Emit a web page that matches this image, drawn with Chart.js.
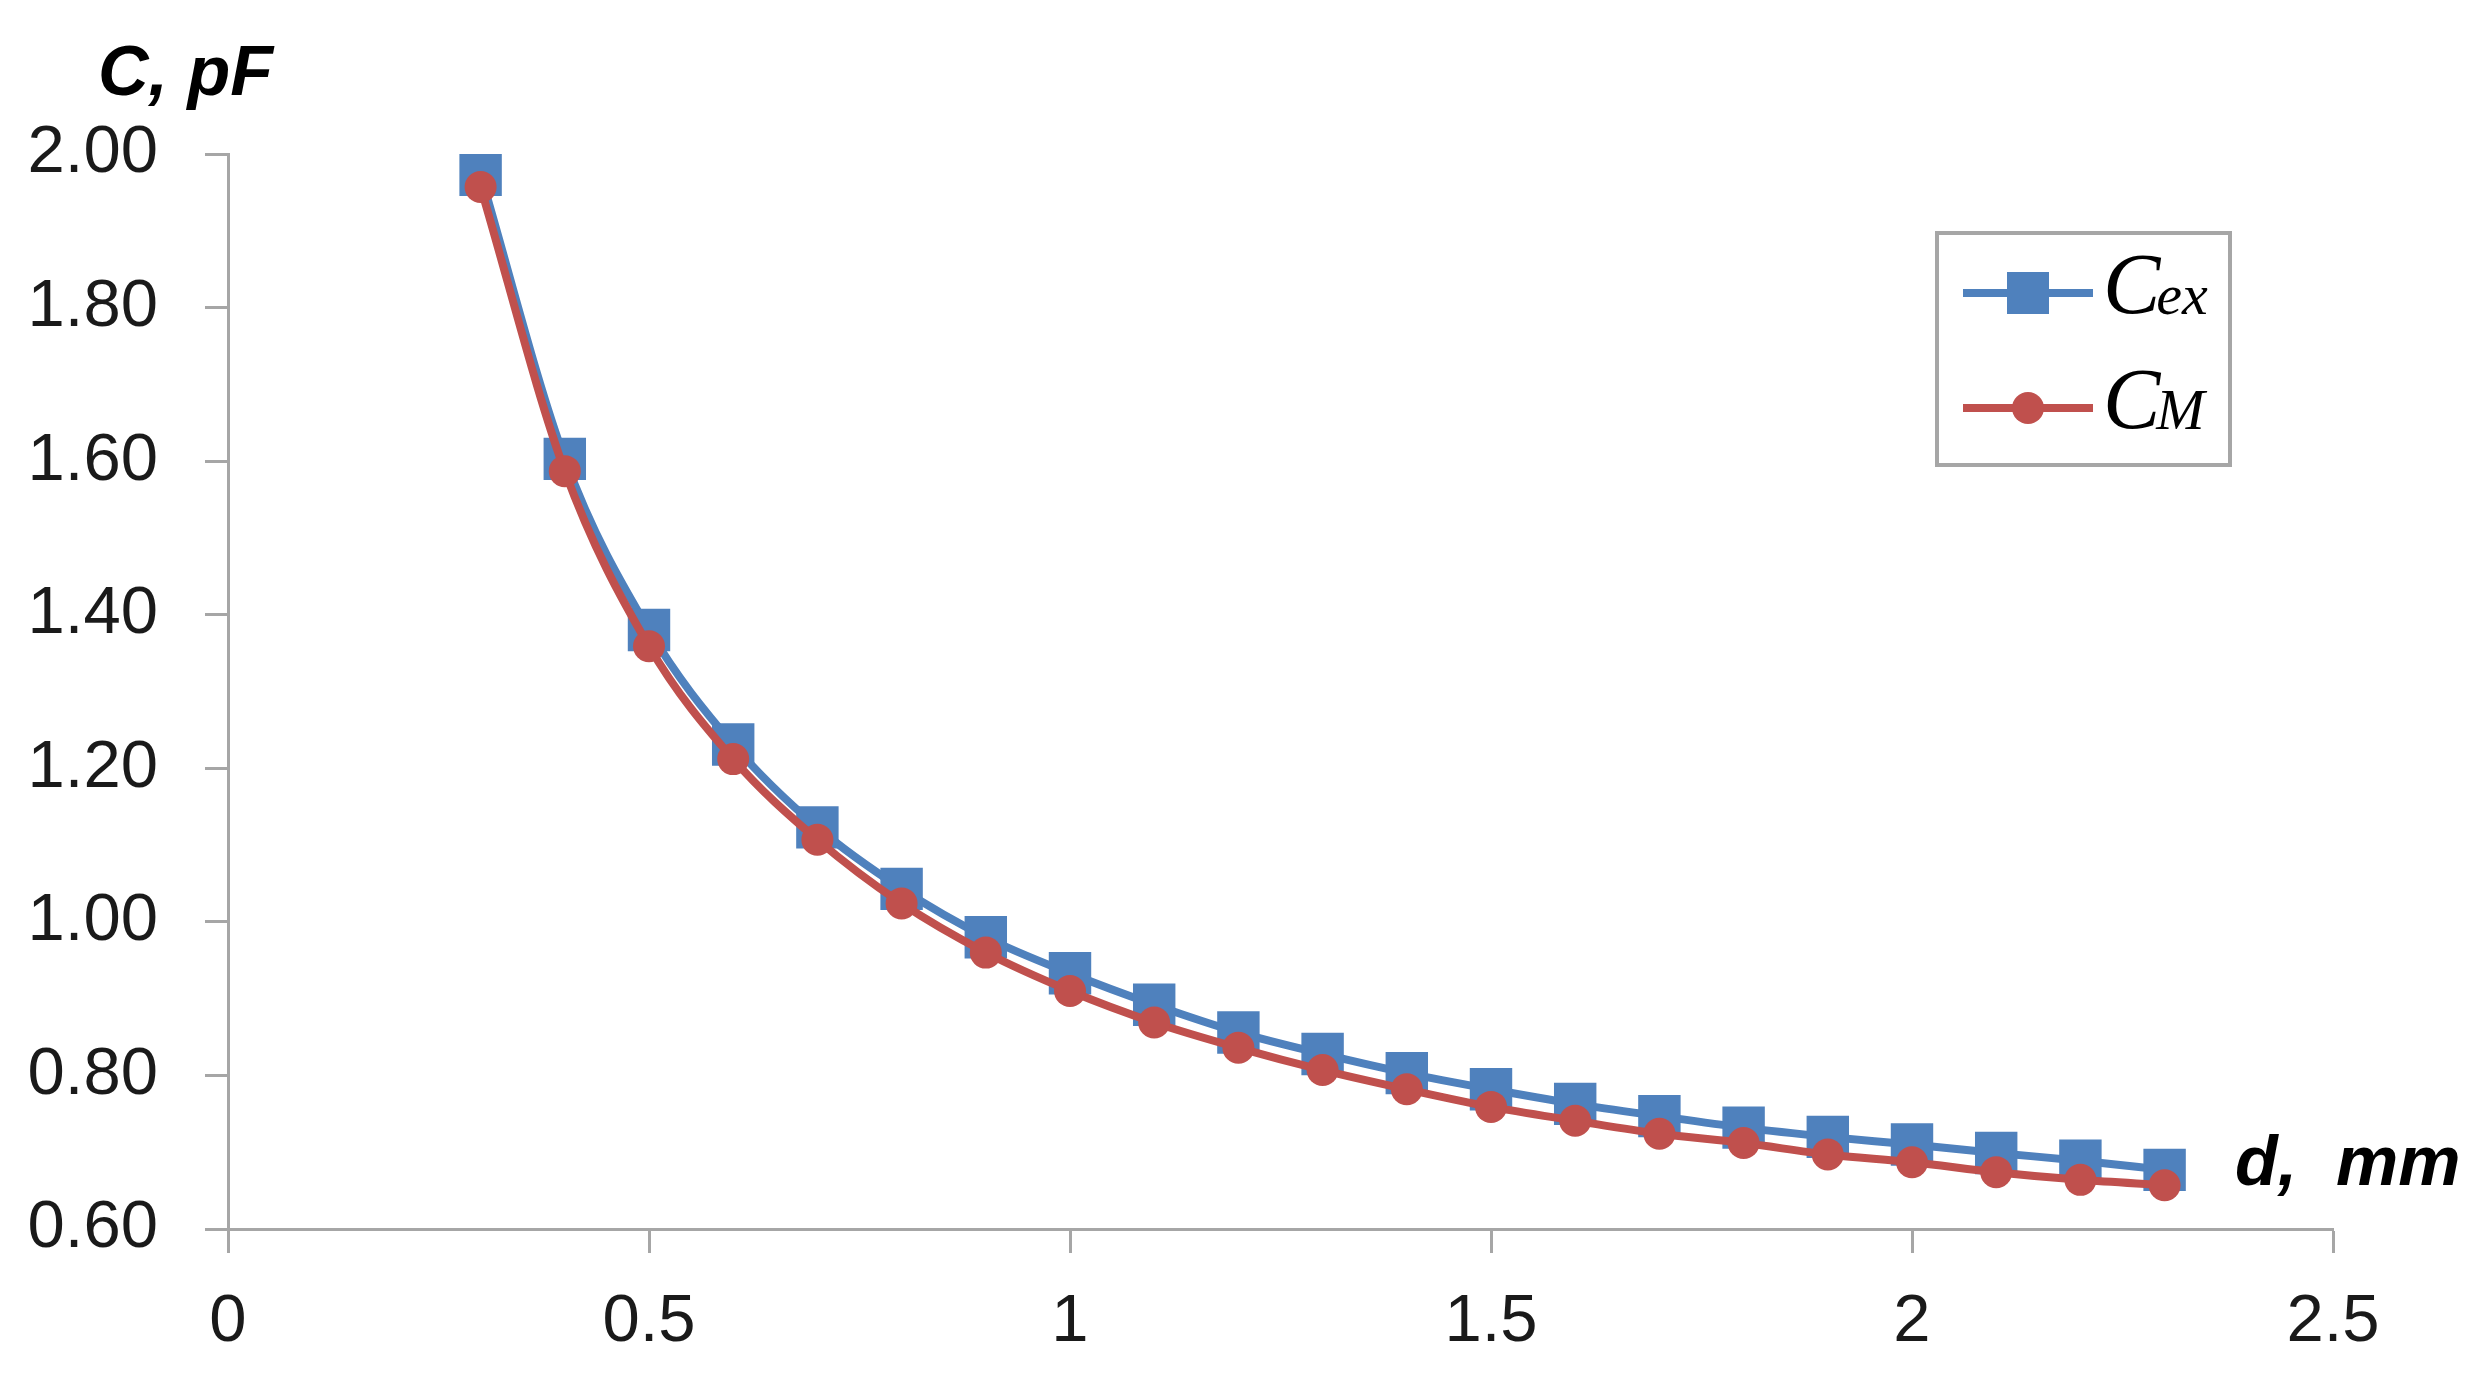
<!DOCTYPE html>
<html>
<head>
<meta charset="utf-8">
<script src="https://cdn.jsdelivr.net/npm/chart.js@4.4.0/dist/chart.umd.min.js"></script>
<style>
  html, body { margin: 0; padding: 0; background: #fff; }
  #wrap { width: 2486px; height: 1377px; position: relative; }
</style>
</head>
<body>
<div id="wrap"><canvas id="capChart"></canvas></div>
<script>
// gap d, mm
var gap = [0.3, 0.4, 0.5, 0.6, 0.7, 0.8, 0.9, 1.0, 1.1, 1.2, 1.3, 1.4, 1.5, 1.6, 1.7, 1.8, 1.9, 2.0, 2.1, 2.2, 2.3];
// measured capacitance, pF
var cEx = [1.973, 1.603, 1.380, 1.231, 1.123, 1.043, 0.980, 0.933, 0.892, 0.856, 0.828, 0.803, 0.782, 0.763, 0.747, 0.732, 0.720, 0.710, 0.699, 0.689, 0.677];
// model capacitance, pF
var cM = [1.957, 1.587, 1.359, 1.212, 1.107, 1.024, 0.960, 0.910, 0.869, 0.836, 0.807, 0.782, 0.759, 0.741, 0.724, 0.712, 0.697, 0.687, 0.674, 0.664, 0.657];

var seriesMain = ['C', 'C'];
var seriesSub = ['ex', 'M'];
var yName = 'C, pF';
var xName = 'd,  mm';

function points(xs, ys) {
  return xs.map(function (v, i) { return { x: v, y: ys[i] }; });
}

var blue = '#4F81BD';
var red = '#C0504D';
var axisGrey = '#A6A6A6';

// axis names and the boxed legend with subscripts
var extras = {
  id: 'extras',
  afterDraw: function (chart) {
    var ctx = chart.ctx;
    var x = chart.scales.x, y = chart.scales.y;
    ctx.save();
    ctx.fillStyle = '#000';
    ctx.textBaseline = 'alphabetic';
    ctx.font = 'italic bold 70px "Liberation Sans", Arial, sans-serif';
    ctx.fillText(yName, x.left - 130, y.top - 59);
    ctx.fillText(xName, x.right - 98, y.bottom - 44);

    // legend
    var bx = x.right - 396, by = y.top + 79, bw = 293, bh = 232;
    ctx.strokeStyle = axisGrey;
    ctx.lineWidth = 4;
    ctx.strokeRect(bx, by, bw, bh);
    var rows = [by + 60, by + 175];
    chart.data.datasets.forEach(function (ds, i) {
      var cy = rows[i];
      ctx.strokeStyle = ds.borderColor;
      ctx.lineWidth = 8;
      ctx.beginPath();
      ctx.moveTo(bx + 26, cy);
      ctx.lineTo(bx + 156, cy);
      ctx.stroke();
      ctx.fillStyle = ds.pointBackgroundColor;
      if (ds.pointStyle === 'rect') {
        ctx.fillRect(bx + 91 - 21, cy - 21, 42, 42);
      } else {
        ctx.beginPath();
        ctx.arc(bx + 91, cy, 16, 0, Math.PI * 2);
        ctx.fill();
      }
      ctx.fillStyle = '#000';
      ctx.font = 'italic 86px "Liberation Serif", "Times New Roman", serif';
      ctx.fillText(seriesMain[i], bx + 166, cy + 20);
      var w = ctx.measureText(seriesMain[i]).width;
      ctx.font = 'italic 58px "Liberation Serif", "Times New Roman", serif';
      ctx.fillText(seriesSub[i], bx + 166 + w - 4, cy + 21);
    });
    ctx.restore();
  }
};

var ctx = document.getElementById('capChart').getContext('2d');
var tickFont = { family: '"Liberation Sans", Arial, sans-serif', size: 67 };

var chart = new Chart(ctx, {
  type: 'scatter',
  data: {
    datasets: [{
      label: 'Cex',
      data: points(gap, cEx),
      showLine: true,
      borderColor: blue,
      backgroundColor: blue,
      pointBackgroundColor: blue,
      pointBorderColor: blue,
      pointStyle: 'rect',
      pointRadius: 30,
      pointBorderWidth: 0,
      borderWidth: 8,
      cubicInterpolationMode: 'monotone',
      order: 2
    }, {
      label: 'CM',
      data: points(gap, cM),
      showLine: true,
      borderColor: red,
      backgroundColor: red,
      pointBackgroundColor: red,
      pointBorderColor: red,
      pointStyle: 'circle',
      pointRadius: 16,
      pointBorderWidth: 0,
      borderWidth: 8,
      cubicInterpolationMode: 'monotone',
      order: 1
    }]
  },
  options: {
    responsive: true,
    maintainAspectRatio: false,
    animation: false,
    devicePixelRatio: 1,
    layout: { padding: { top: 154, right: 153, bottom: 28, left: 0 } },
    plugins: {
      legend: { display: false },
      tooltip: { enabled: false }
    },
    scales: {
      x: {
        type: 'linear',
        min: 0,
        max: 2.5,
        ticks: {
          stepSize: 0.5, color: '#1a1a1a', font: tickFont, padding: 29, maxRotation: 0,
          callback: function (v) { return String(Number(v.toFixed(1))); }
        },
        grid: { drawOnChartArea: false, color: axisGrey, tickLength: 24, tickWidth: 3 },
        border: { color: axisGrey, width: 3 },
        afterFit: function (s) { s.height = 120; }
      },
      y: {
        type: 'linear',
        min: 0.6,
        max: 2.0,
        ticks: {
          stepSize: 0.2, color: '#1a1a1a', font: tickFont, padding: 47,
          callback: function (v) { return v.toFixed(2); }
        },
        grid: { drawOnChartArea: false, color: axisGrey, tickLength: 23, tickWidth: 3 },
        border: { color: axisGrey, width: 3 },
        afterFit: function (s) { s.width = 228; }
      }
    }
  },
  plugins: [extras]
});
</script>
</body>
</html>
